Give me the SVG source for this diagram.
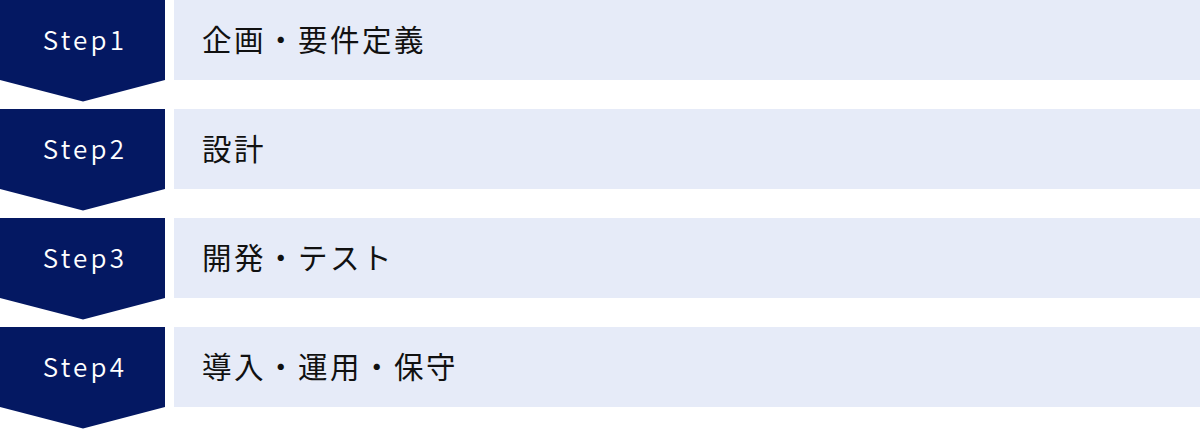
<svg xmlns="http://www.w3.org/2000/svg" width="1200" height="429" viewBox="0 0 1200 429">
<style>
.step{fill:#041862}
.box{fill:#E6EBF8}
.st{font-family:"Noto Sans CJK JP","Noto Sans",sans-serif;font-size:26px;font-weight:350;fill:#ffffff;letter-spacing:3.2px;text-anchor:middle}
.lb{font-family:"Noto Sans CJK JP","Noto Sans",sans-serif;font-size:29.5px;fill:#111111;letter-spacing:2.5px}
</style>
<rect width="1200" height="429" fill="#ffffff"/>
<g id="step1">
<path class="step" d="M0 0H165V80L83 101.5L0 80Z"/>
<text class="st" x="85" y="50">Step1</text>
<rect class="box" x="174" y="0" width="1026" height="80"/>
<text class="lb" x="202" y="51">企画・要件定義</text>
</g>
<g id="step2">
<path class="step" d="M0 109H165V189L83 210.5L0 189Z"/>
<text class="st" x="85" y="159">Step2</text>
<rect class="box" x="174" y="109" width="1026" height="80"/>
<text class="lb" x="202" y="160">設計</text>
</g>
<g id="step3">
<path class="step" d="M0 218H165V298L83 319.5L0 298Z"/>
<text class="st" x="85" y="268">Step3</text>
<rect class="box" x="174" y="218" width="1026" height="80"/>
<text class="lb" x="202" y="269">開発・テスト</text>
</g>
<g id="step4">
<path class="step" d="M0 327H165V407L83 428.5L0 407Z"/>
<text class="st" x="85" y="377">Step4</text>
<rect class="box" x="174" y="327" width="1026" height="80"/>
<text class="lb" x="202" y="378">導入・運用・保守</text>
</g>
<g id="connectors"></g>
</svg>
